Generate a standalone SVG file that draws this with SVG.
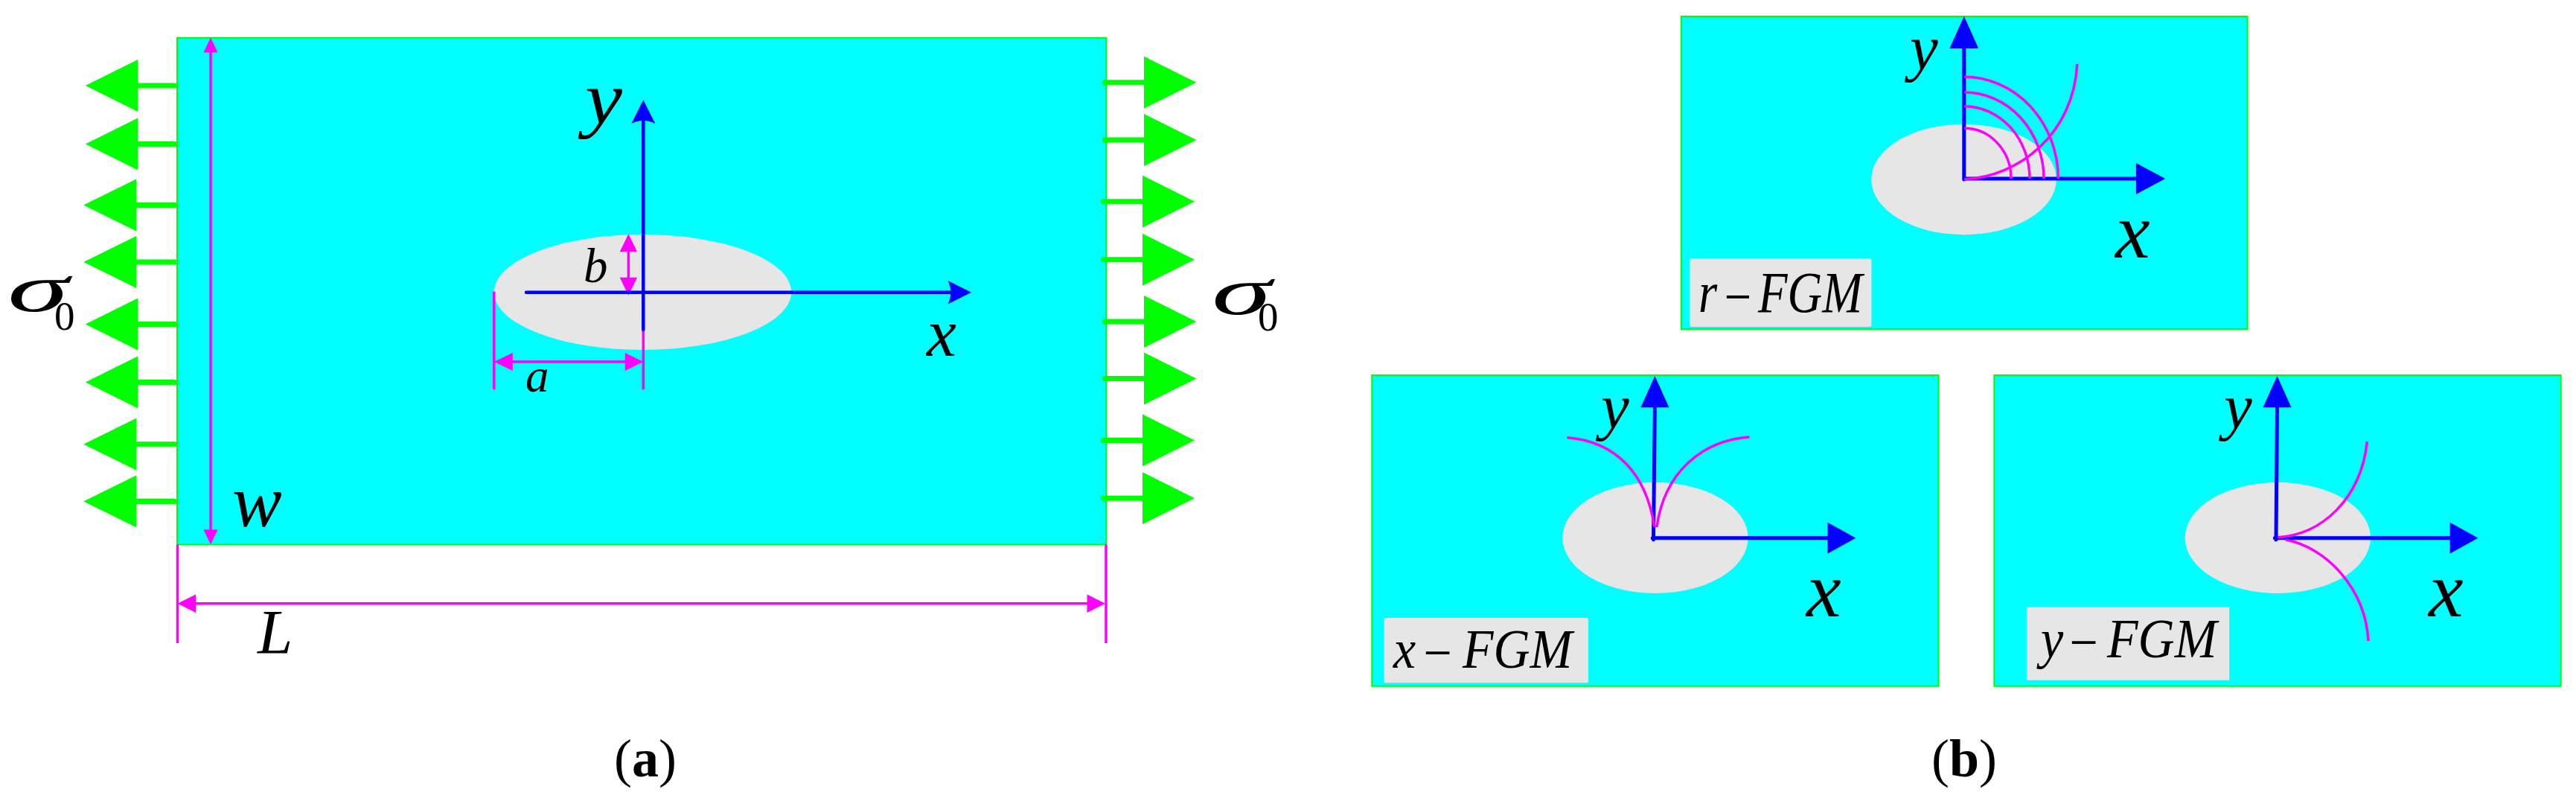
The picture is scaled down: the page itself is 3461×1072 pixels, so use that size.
<svg xmlns="http://www.w3.org/2000/svg" width="3461" height="1072" viewBox="0 0 3461 1072">
<style>
text{font-family:"Liberation Serif","Times New Roman",serif;fill:#000}
.i{font-style:italic}
.plate{fill:#00ffff;stroke:#00ff00;stroke-width:2}
.hole{fill:#e6e6e6}
.ax{stroke:#0000ff;fill:none;stroke-linecap:round}
.bl{fill:#0000ff}
.mg{stroke:#ff00ff;fill:none;stroke-width:3.5}
.mf{fill:#ff00ff}
.gr{stroke:#00ff00;stroke-width:7;stroke-linecap:round}
.gf{fill:#00ff00}
</style>
<rect width="3461" height="1072" fill="#fff"/>
<g id="panel-a">
<rect class="plate" x="238" y="51" width="1248" height="680.5"/>
<ellipse class="hole" cx="863.5" cy="392.5" rx="199.7" ry="77.5"/>
</g>
<g id="panel-r">
<rect class="plate" x="2259" y="22" width="760.5" height="420"/>
<ellipse class="hole" cx="2638.5" cy="241" rx="124.3" ry="74.3"/>
<rect class="hole" x="2270.4" y="347.3" width="244" height="91.7" rx="2"/>
</g>
<g id="panel-x">
<rect class="plate" x="1843.3" y="504" width="761.2" height="417.7"/>
<ellipse class="hole" cx="2224" cy="722.5" rx="124.7" ry="74.5"/>
<rect class="hole" x="1859.6" y="830" width="274.4" height="87.3" rx="2"/>
</g>
<g id="panel-y">
<rect class="plate" x="2679.4" y="504" width="761.2" height="417.7"/>
<ellipse class="hole" cx="3060.3" cy="722.5" rx="124.7" ry="74.5"/>
<rect class="hole" x="2722.8" y="815" width="272.4" height="98.7"/>
</g>
<g id="connectors">
<g id="loads-left">
<path class="gr" d="M185 115H235M185 193.5H235M183 275.5H235M183 352H235M185 435.5H235M185 513.4H235M183 596.8H235M183 673.4H235"/>
<path class="gf" d="M114.8 115L185.2 80V150ZM114.8 193.5L185.2 158.5V228.5ZM112.2 275.5L183.2 240.5V310.5ZM112.2 352L183.2 317V387ZM114.8 435.5L185.2 400.5V470.5ZM114.8 513.4L185.2 478.4V548.4ZM112.2 596.8L183.2 561.8V631.8ZM112.2 673.4L183.2 638.4V708.4Z"/>
</g>
<g id="loads-right">
<path class="gr" d="M1484 110.8H1537M1484 188H1537M1482 270.7H1535M1482 348.7H1535M1484 432H1537M1484 508.6H1537M1482 591.4H1535M1482 669.3H1535"/>
<path class="gf" d="M1607.3 110.8L1537 75.8V145.8ZM1607.3 188L1537 153V223ZM1605 270.7L1535 235.7V305.7ZM1605 348.7L1535 313.7V383.7ZM1607.3 432L1537 397V467ZM1607.3 508.6L1537 473.6V543.6ZM1605 591.4L1535 556.4V626.4ZM1605 669.3L1535 634.3V704.3Z"/>
</g>
<g id="dims-a">
<path class="mg" d="M283 68V714M238.5 731.5V864M1486 731.5V864M260 810.8H1464M663.8 391.7V523.3M864.3 442.7V523.3M685 486H842M844.4 335V376"/>
<path class="mf" d="M283 50.6L273.5 70.6H292.5ZM283 731.5L273.5 711.5H292.5ZM238.5 810.8L263 798.5V823.1ZM1485 810.8L1460.5 798.5V823.1ZM663.8 486L688.8 474V498ZM864.3 486L839.8 474V498ZM844.4 314.3L832.7 338.3H856.1ZM844.4 396.7L832.7 372.7H856.1Z"/>
</g>
<g id="axes-a">
<path class="ax" stroke-width="4.5" d="M864.3 442.7V160M707 392.7H1280"/>
<path class="bl" d="M864.3 134.3L880.3 166Q864.3 158 848.3 166ZM1305 392.7L1273.5 377Q1281 392.7 1273.5 408.4Z"/>
</g>
<g id="axes-r">
<path class="ax" stroke-width="5" d="M2638.8 241V60M2638.8 240H2875"/>
<path class="bl" d="M2638.8 21.7L2658.2 65H2619.4ZM2909.2 240L2869.9 219V261Z"/>
<path class="mg" d="M2639 172.3A63 67.7 0 0 1 2702 240M2639 142.7A88 97.3 0 0 1 2727 240M2639 124A107 116 0 0 1 2746 240M2639 103.3A126.3 136.7 0 0 1 2765.3 240M2639 240.7C2712 238 2786 180 2790.8 86"/>
</g>
<g id="axes-x">
<path class="ax" stroke-width="5" d="M2221.5 725L2223.4 545M2220.3 722.7H2460"/>
<path class="bl" d="M2223.4 505L2242.4 547.3H2204.4ZM2493.3 722.7L2455.5 701.7V743.7Z"/>
<path class="mg" d="M2105.5 587.7C2170 593 2212 635 2222.9 708.3M2350.4 587C2286 592 2236 635 2225.9 708.3"/>
</g>
<g id="axes-y">
<path class="ax" stroke-width="5" d="M3058 725L3059.5 545M3056.4 722.7H3297"/>
<path class="bl" d="M3059.5 505L3078.5 547.3H3040.5ZM3329.4 722.7L3291.6 701.7V743.7Z"/>
<path class="mg" d="M3060.5 721.7C3120 718 3172 670 3180.4 593.3M3070.7 725C3125 735 3178 790 3182 861"/>
</g>
</g>
<g id="labels">
<text font-size="90" x="10" y="418" textLength="82" lengthAdjust="spacingAndGlyphs" class="i">σ</text>
<text font-size="55" x="73" y="443">0</text>
<text font-size="90" x="1628" y="422" textLength="80" lengthAdjust="spacingAndGlyphs" class="i">σ</text>
<text font-size="55" x="1690" y="444">0</text>
<text class="i" font-size="100" x="786" y="166" textLength="50" lengthAdjust="spacingAndGlyphs">y</text>
<text class="i" font-size="90" x="1245" y="478">x</text>
<text class="i" font-size="65" x="784" y="379">b</text>
<text class="i" font-size="63" x="706" y="526">a</text>
<text class="i" font-size="100" x="312" y="707">w</text>
<text class="i" font-size="85" x="346" y="878">L</text>
<text class="i" font-size="85" x="2566" y="93">y</text>
<text class="i" font-size="105" x="2842" y="346">x</text>
<text class="i" font-size="79" transform="translate(2282 419) scale(.82 1)">r<tspan x="37.3" dy="6">−</tspan><tspan x="97.6" dy="-6">FGM</tspan></text>
<text class="i" font-size="85" x="2151" y="575">y</text>
<text class="i" font-size="105" x="2427" y="828">x</text>
<text class="i" font-size="74" transform="translate(1872 897) scale(.92 1)">x<tspan x="39" dy="5">−</tspan><tspan x="101" dy="-5">FGM</tspan></text>
<text class="i" font-size="85" x="2988" y="575">y</text>
<text class="i" font-size="105" x="3263" y="828">x</text>
<text class="i" font-size="74" transform="translate(2742 882.5) scale(.92 1)">y<tspan x="37" dy="5">−</tspan><tspan x="96.7" dy="-5">FGM</tspan></text>
<text font-size="72" x="825" y="1043">(<tspan font-weight="700">a</tspan>)</text>
<text font-size="72" x="2595" y="1043">(<tspan font-weight="700">b</tspan>)</text>
</g>
</svg>
